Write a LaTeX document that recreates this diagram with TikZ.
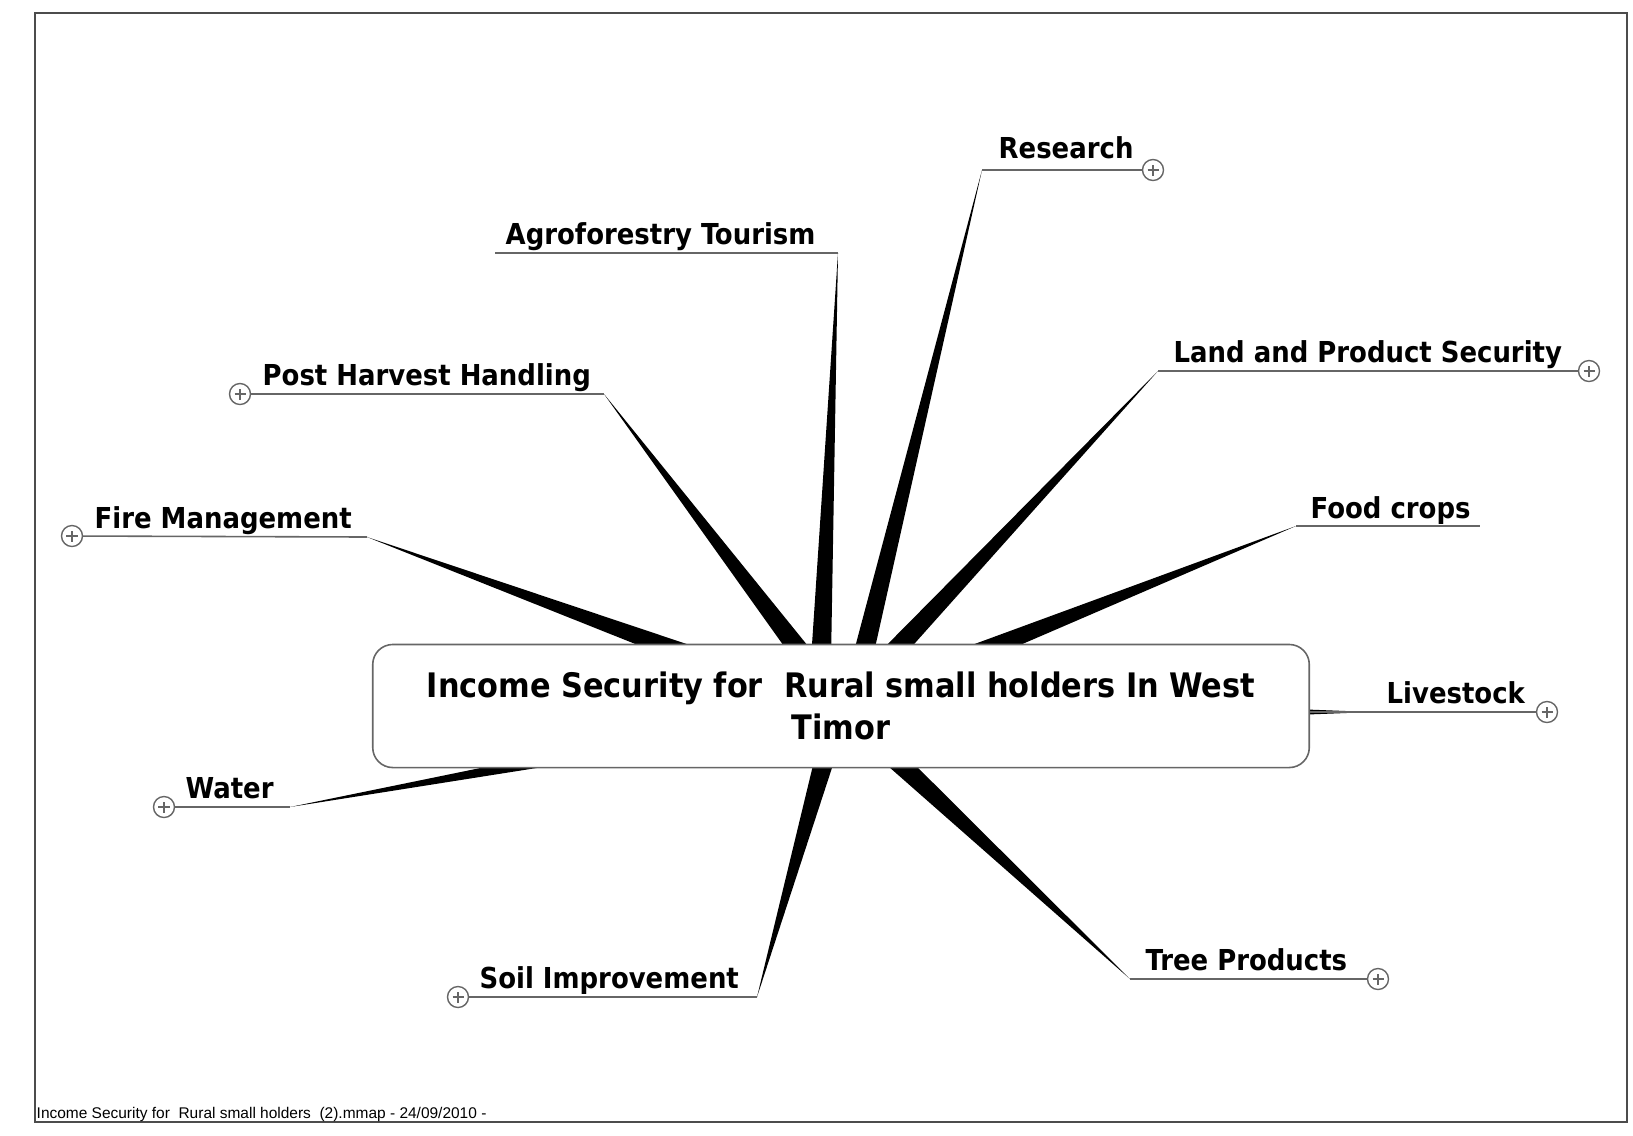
\documentclass[tikz,border=0pt]{standalone}
\usepackage{fontspec}
\setmainfont{DejaVu Sans Condensed}
\newfontfamily\footfont{Liberation Sans}
\usetikzlibrary{calc}

\begin{document}
\begin{tikzpicture}[x=0.01cm,y=-0.01cm,
  topic/.style={anchor=base west, inner sep=0pt, font=\fontsize{8.2}{10}\selectfont\bfseries},
  stem/.style={draw=black!60, line width=0.45pt},
  pluscirc/.style={circle, draw=black!60, fill=white, line width=0.4pt, minimum size=0.21cm, inner sep=0pt,
    path picture={\draw[black!60, line width=0.35pt]
      ([xshift=-0.055cm]path picture bounding box.center) -- ([xshift=0.055cm]path picture bounding box.center)
      ([yshift=-0.055cm]path picture bounding box.center) -- ([yshift=0.055cm]path picture bounding box.center);}}]
\useasboundingbox (0,0) rectangle (1633,1135);
\draw[black!70, line width=0.6pt] (35,13) rectangle (1627,1122);

\coordinate (res-b) at (862,660);   \coordinate (res-t) at (982,170);
\coordinate (agro-b) at (821,660);  \coordinate (agro-t) at (838,253);
\coordinate (post-b) at (804,657);  \coordinate (post-t) at (604,394);
\coordinate (fire-b) at (700,659);  \coordinate (fire-t) at (367,537);
\coordinate (water-b) at (560,758); \coordinate (water-t) at (290,807);
\coordinate (soil-b) at (826,754);  \coordinate (soil-t) at (757,997);
\coordinate (tree-b) at (894,758);  \coordinate (tree-t) at (1130,979);
\coordinate (live-b) at (1294,712); \coordinate (live-t) at (1372,712);
\coordinate (food-b) at (960,660);  \coordinate (food-t) at (1296,526);
\coordinate (land-b) at (890,656);  \coordinate (land-t) at (1158,371);

\fill ($(res-b)!0.1cm!90:(res-t)$) -- (res-t) -- ($(res-b)!0.1cm!-90:(res-t)$) -- cycle;
\fill ($(agro-b)!0.1cm!90:(agro-t)$) -- (agro-t) -- ($(agro-b)!0.1cm!-90:(agro-t)$) -- cycle;
\fill ($(post-b)!0.1cm!90:(post-t)$) -- (post-t) -- ($(post-b)!0.1cm!-90:(post-t)$) -- cycle;
\fill ($(fire-b)!0.1cm!90:(fire-t)$) -- (fire-t) -- ($(fire-b)!0.1cm!-90:(fire-t)$) -- cycle;
\fill ($(water-b)!0.062cm!90:(water-t)$) -- (water-t) -- ($(water-b)!0.062cm!-90:(water-t)$) -- cycle;
\fill ($(soil-b)!0.1cm!90:(soil-t)$) -- (soil-t) -- ($(soil-b)!0.1cm!-90:(soil-t)$) -- cycle;
\fill ($(tree-b)!0.1cm!90:(tree-t)$) -- (tree-t) -- ($(tree-b)!0.1cm!-90:(tree-t)$) -- cycle;
\fill ($(live-b)!0.03cm!90:(live-t)$) -- (live-t) -- ($(live-b)!0.03cm!-90:(live-t)$) -- cycle;
\fill ($(food-b)!0.1cm!90:(food-t)$) -- (food-t) -- ($(food-b)!0.1cm!-90:(food-t)$) -- cycle;
\fill ($(land-b)!0.1cm!90:(land-t)$) -- (land-t) -- ($(land-b)!0.1cm!-90:(land-t)$) -- cycle;

\node[draw=black!60, fill=white, line width=0.45pt, rounded corners=0.2cm, minimum width=9.36cm, minimum height=1.23cm,
  align=center, font=\fontsize{9.6}{12}\selectfont\bfseries] (hub) at (841,706)
{Income Security for\ \ Rural small holders In West\\Timor};

\node[pluscirc] (res-p) at (1153,170) {};
\node[pluscirc] (post-p) at (240,394) {};
\node[pluscirc] (fire-p) at (72,536) {};
\node[pluscirc] (water-p) at (164,807) {};
\node[pluscirc] (soil-p) at (458,997) {};
\node[pluscirc] (tree-p) at (1378,979) {};
\node[pluscirc] (live-p) at (1547,712) {};
\node[pluscirc] (land-p) at (1589,371) {};
\coordinate (agro-e) at (495,253);
\coordinate (food-e) at (1480,526);

\draw[stem] (res-t) -- (res-p);
\draw[stem] (agro-t) -- (agro-e);
\draw[stem] (post-t) -- (post-p);
\draw[stem] (fire-t) -- (fire-p);
\draw[stem] (water-t) -- (water-p);
\draw[stem] (soil-t) -- (soil-p);
\draw[stem] (tree-t) -- (tree-p);
\draw[stem] (hub.east |- live-t) -- (live-p);
\draw[stem] (food-t) -- (food-e);
\draw[stem] (land-t) -- (land-p);

\node[topic] (res) at (998,158) {Research};
\node[topic] (agro) at (505,244) {Agroforestry Tourism};
\node[topic] (post) at (262,385) {Post Harvest Handling};
\node[topic] (fire) at (94,528) {Fire Management};
\node[topic] (water) at (185,798) {Water};
\node[topic] (soil) at (479,988) {Soil Improvement};
\node[topic] (tree) at (1145,970) {Tree Products};
\node[topic] (live) at (1386,703) {Livestock};
\node[topic] (food) at (1310,518) {Food crops};
\node[topic] (land) at (1173,362) {Land and Product Security};

\node[anchor=base west, inner sep=0pt, font=\footfont\fontsize{4.4}{5}\selectfont] (foot) at (36,1118)
{Income Security for\ \ Rural small holders\ \ (2).mmap - 24/09/2010 -};
\end{tikzpicture}
\end{document}
